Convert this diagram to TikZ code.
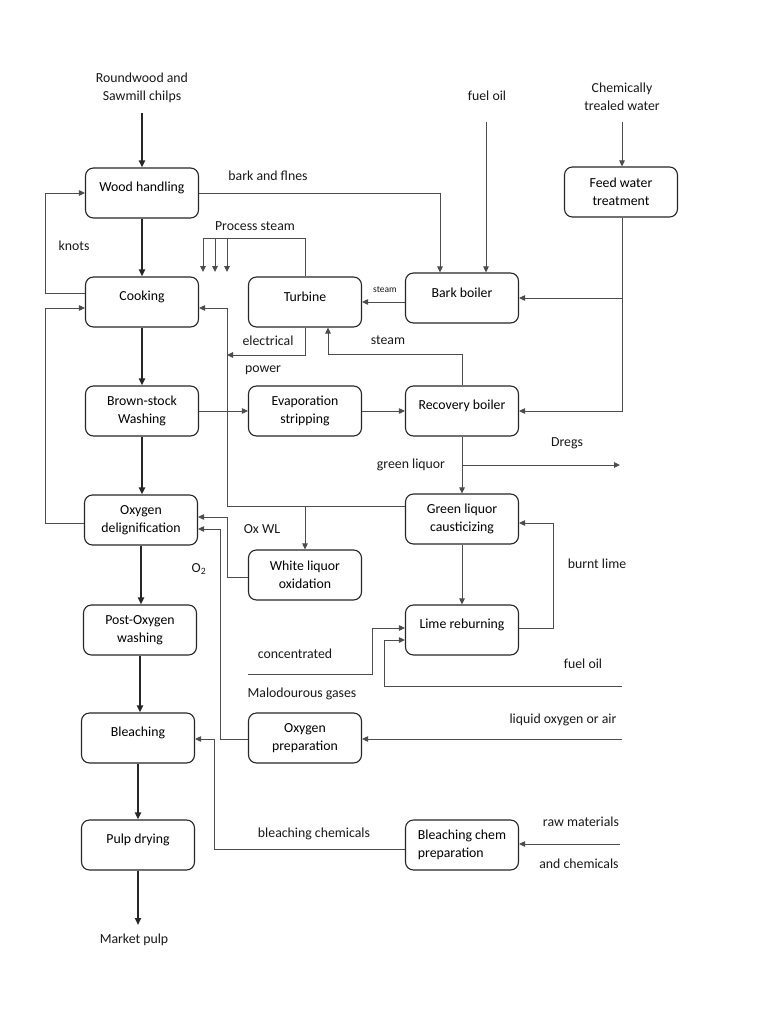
\documentclass[tikz,border=0pt]{standalone}
\usepackage{fontspec}
\setmainfont{Carlito}
\usetikzlibrary{arrows.meta}
\newcommand\upl[1]{\raisebox{5pt}[\height][\depth]{#1}}
\tikzset{
  box/.style={draw=black!85, line width=1.1pt, rounded corners=8pt, minimum width=113pt, minimum height=50pt, align=center, inner sep=2pt},
  lbl/.style={align=center, inner sep=0pt, text=black!90},
  small/.style={lbl, font=\fontsize{9.5}{11}\selectfont},
  main/.style={line width=1.9pt, black!85, -{Triangle[length=7pt,width=6pt]}},
  flow/.style={line width=0.9pt, black!70, -{Triangle[length=6pt,width=5.5pt]}},
  pipe/.style={line width=0.9pt, black!70},
}
\begin{document}
\begin{tikzpicture}[x=1pt,y=-1pt, font=\fontsize{13.8}{18}\selectfont]
\useasboundingbox[fill=white] (0,0) rectangle (768,1024);
% boxes
\node[box] (wh) at (142,193) {\upl{Wood handling}};
\node[box] (cook) at (142,302) {\upl{Cooking}};
\node[box] (turb) at (305,302) {\upl{Turbine}};
\node[box] (bark) at (462,298) {\upl{Bark boiler}};
\node[box] (feed) at (621,192) {Feed water\\treatment};
\node[box] (bsw) at (142,411) {Brown-stock\\Washing};
\node[box] (evap) at (305,411) {Evaporation\\stripping};
\node[box] (rec) at (462,411) {\upl{Recovery boiler}};
\node[box] (od) at (141,520) {Oxygen\\delignification};
\node[box] (wlo) at (305,575) {White liquor\\oxidation};
\node[box] (glc) at (462,519) {Green liquor\\causticizing};
\node[box] (lime) at (462,630) {\upl{Lime reburning}};
\node[box] (pow) at (140,630) {Post-Oxygen\\washing};
\node[box] (bleach) at (138,738) {\upl{Bleaching}};
\node[box] (oxp) at (305,738) {Oxygen\\preparation};
\node[box] (pulp) at (138,845) {\upl{Pulp drying}};
\node[box, align=left] (bcp) at (462,845) {Bleaching chem\\preparation};
% text labels
\node[lbl] (rw) at (142,88) {Roundwood and\\Sawmill chilps};
\node[lbl] (mp) at (134,940) {Market pulp};
\node[lbl] (tbark) at (268,176) {bark and flnes};
\node[lbl] (tfuel) at (487,96) {fuel oil};
\node[lbl] (tchem) at (622,97) {Chemically\\trealed water};
\node[lbl] (tknots) at (74,246) {knots};
\node[lbl] (tps) at (255,226) {Process steam};
\node[small] (tst1) at (385,290) {steam};
\node[lbl] (telec) at (268,341) {electrical};
\node[lbl] (tpow) at (263,370) {power};
\node[lbl] (tst2) at (388,340) {steam};
\node[lbl] (tdregs) at (567,443) {Dregs};
\node[lbl] (tgl) at (411,465) {green liquor};
\node[lbl] (toxwl) at (262,529) {Ox WL};
\node[lbl] (to2) at (199,569) {O\textsubscript{2}};
\node[lbl] (tbl) at (597,564) {burnt lime};
\node[lbl] (tconc) at (295,654) {concentrated};
\node[lbl] (tfuel2) at (583,664) {fuel oil};
\node[lbl] (tmal) at (302,694) {Malodourous gases};
\node[lbl] (tlox) at (563,720) {liquid oxygen or air};
\node[lbl] (tbc) at (314,834) {bleaching chemicals};
\node[lbl] (traw) at (581,822) {raw materials};
\node[lbl] (tandc) at (579,864) {and chemicals};
% free ends
\coordinate (rwin) at (142,113);
\coordinate (fuelin) at (486,122);
\coordinate (chemin) at (622,122);
\coordinate (mpout) at (134,925);
\coordinate (dregsout) at (620,465);
\coordinate (concin) at (248,674);
\coordinate (fuel2in) at (622,686);
\coordinate (loxin) at (622,739);
\coordinate (rawin) at (620,844);
% main chain
\draw[main] (rwin) -- (rwin |- wh.north);
\draw[main] (wh.south) -- (wh.south |- cook.north);
\draw[main] (cook.south) -- (cook.south |- bsw.north);
\draw[main] (bsw.south) -- (bsw.south |- od.north);
\draw[main] (od.south) -- (od.south |- pow.north);
\draw[main] (pow.south) -- (pow.south |- bleach.north);
\draw[main] (bleach.south) -- (bleach.south |- pulp.north);
\draw[main] (pulp.south) -- (pulp.south |- mpout);
% bark and fines, fuel oil
\draw[flow] (wh.east) -| ([xshift=-22pt]bark.north);
\draw[flow] (fuelin) -- (fuelin |- bark.north);
% feed water
\draw[flow] (chemin) -- (chemin |- feed.north);
\draw[flow] (feed.south -| chemin) |- (rec.east);
\draw[flow] (chemin |- bark.east) -- (bark.east);
% knots loop
\draw[flow] ([yshift=9pt]cook.west) -- ++(-40,0) |- (wh.west);
% oxygen delig loop to cooking
\draw[flow] ([yshift=-3pt]od.west) -- ++(-39,0) |- ([yshift=-6pt]cook.west);
% process steam
\draw[pipe] (turb.north) |- (203,238);
\draw[flow] (203,238) -- (203,272);
\draw[flow] (215,238) -- (215,272);
\draw[flow] (227,238) -- (227,272);
% steam bark -> turbine
\draw[flow] (bark.west |- turb.east) -- (turb.east);
% steam recovery -> turbine
\draw[flow] (rec.north) -- ++(0,-31) -| ([xshift=23pt]turb.south);
% electrical power
\draw[flow] (turb.south) |- (227,355);
% white liquor return to cooking
\draw[flow] ([yshift=13pt]glc.west) -- (227,506) -- (227,308) -- (cook.east |- 0,308);
\draw[flow] (305,506) -- (wlo.north);
% brown stock -> evap -> recovery
\draw[flow] (bsw.east) -- (evap.west);
\draw[flow] (evap.east) -- (rec.west);
% recovery -> green liquor, dregs
\draw[flow] (rec.south) -- (glc.north);
\draw[flow] (462,465) -- (dregsout);
% causticizing -> lime, burnt lime
\draw[flow] (glc.south) -- (lime.north);
\draw[flow] ([yshift=2pt]lime.east) -| (553,523) -- (glc.east |- 0,523);
% white liquor oxidation -> OD
\draw[flow] (wlo.west |- 0,577) -| (227,517) -- (od.east |- 0,517);
% oxygen prep -> OD
\draw[flow] (oxp.west |- 0,739) -| (220,529) -- (od.east |- 0,529);
% concentrated malodorous gases, fuel oil to lime
\draw[flow] (concin) -| (372,628) -- (lime.west |- 0,628);
\draw[flow] (fuel2in) -| (384,640) -- (lime.west |- 0,640);
% liquid oxygen
\draw[flow] (loxin) -- (oxp.east |- loxin);
% bleaching chemicals
\draw[flow] (bcp.west |- 0,849) -| (214,739) -- (bleach.east |- 0,739);
\draw[flow] (rawin) -- (bcp.east |- rawin);
\end{tikzpicture}
\end{document}
